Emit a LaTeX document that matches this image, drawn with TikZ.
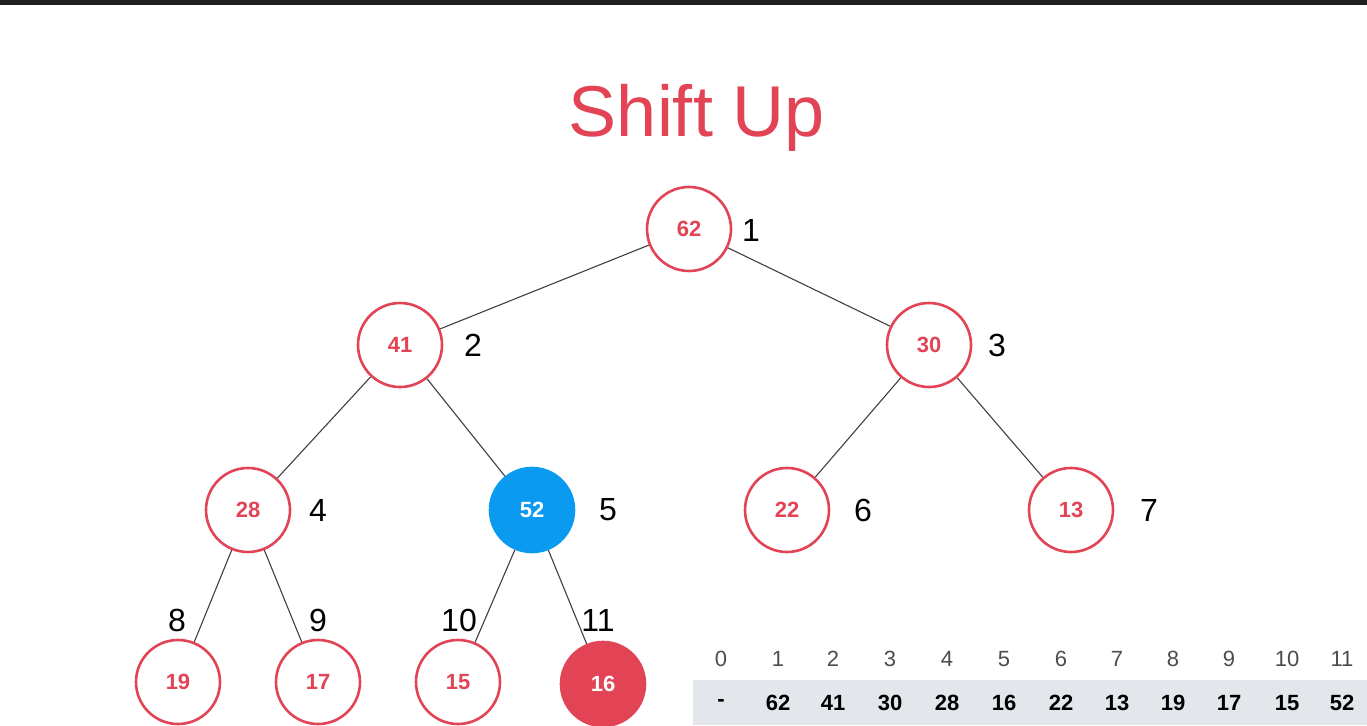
\documentclass[tikz,border=0pt]{standalone}
\usepackage{fontspec}
\setmainfont{Liberation Sans}
\begin{document}
\begin{tikzpicture}[x=1pt,y=-1pt,
  hn/.style={circle,draw=hred,line width=2.6pt,minimum size=84pt,inner sep=0pt,fill=white,text=hred,font=\fontsize{22}{24}\selectfont\bfseries},
  idx/.style={font=\fontsize{32}{34}\selectfont},
  hd/.style={font=\fontsize{22}{24}\selectfont,text=black!70},
  val/.style={font=\fontsize{22}{24}\selectfont\bfseries},
  edge/.style={draw=black!75,line width=1.1pt}]
\definecolor{hred}{HTML}{E24455}
\definecolor{hblue}{HTML}{0A9BF0}
\definecolor{hgray}{HTML}{E3E6EA}
\useasboundingbox (0,0) rectangle (1367,725);
\fill[fill=black!88] (0,0) rectangle (1367,5);
\node[text=hred,font=\fontsize{72}{76}\selectfont] (title) at (697,118) {Shift Up};
\fill[hgray] (693,680) rectangle (1367,725);
\node[hn] (n1) at (689,229) {62};
\node[hn] (n2) at (400,345) {41};
\node[hn] (n3) at (929,345) {30};
\node[hn] (n4) at (248,510) {28};
\node[hn,draw=hblue,fill=hblue,text=white] (n5) at (532,510) {52};
\node[hn] (n6) at (787,510) {22};
\node[hn] (n7) at (1071,510) {13};
\node[hn] (n8) at (178,682) {19};
\node[hn] (n9) at (318,682) {17};
\node[hn] (n10) at (458,682) {15};
\node[hn,fill=hred,text=white] (n11) at (603,684) {16};
\foreach \a/\b in {n1/n2,n1/n3,n2/n4,n2/n5,n3/n6,n3/n7,n4/n8,n4/n9,n5/n10,n5/n11}
  \draw[edge] (\a) -- (\b);
\foreach \t/\x/\y in {1/751/230,2/473/345,3/997/345,4/318/510,5/608/510,6/863/510,7/1149/510,8/177/620,9/318/620,10/459/620,11/598/620}
  \node[idx] (i\t) at (\x,\y) {\t};
\foreach \i/\x/\v in {0/721/-,1/778/62,2/833/41,3/890/30,4/947/28,5/1004/16,6/1061/22,7/1117/13,8/1173/19,9/1229/17,10/1287/15,11/1342/52}{
  \node[hd] (h\i) at (\x,659) {\i};
  \node[val] (v\i) at (\x,703) {\v};}
\end{tikzpicture}
\end{document}
